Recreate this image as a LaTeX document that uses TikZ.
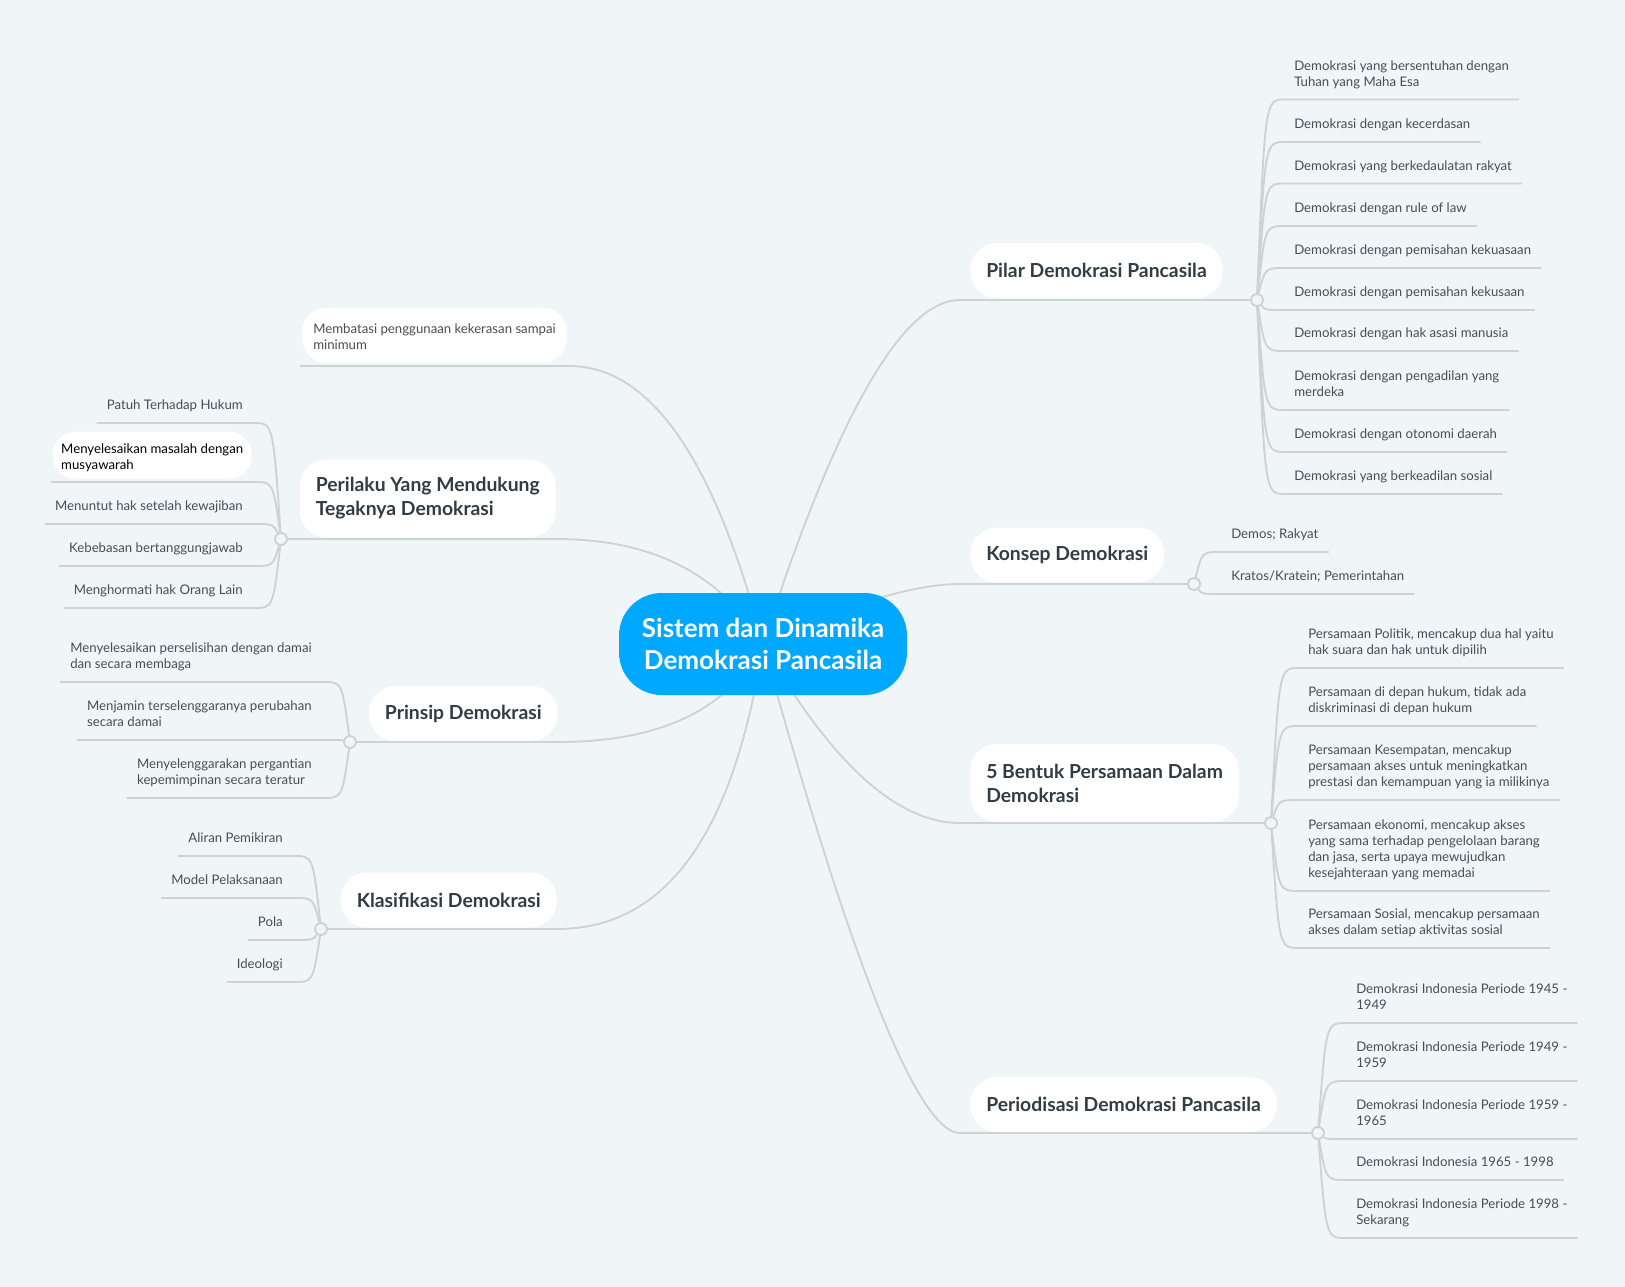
\documentclass[tikz,border=0pt]{standalone}
\usepackage{fontspec}
\setmainfont{Lato}
\usetikzlibrary{calc}
\pgfdeclarelayer{bg}
\pgfsetlayers{bg,main}
\definecolor{bgc}{RGB}{240,245,248}
\definecolor{linec}{RGB}{206,210,213}
\definecolor{rootc}{RGB}{0,168,255}
\definecolor{topicc}{RGB}{50,60,68}
\definecolor{leafc}{RGB}{72,78,84}
\newcommand\leaffont{\fontsize{9.9}{12.2}\selectfont}
\newcommand\topicfont{\fontsize{14.5}{18}\selectfont\bfseries}
\newcommand\rootfont{\fontsize{19.5}{24}\selectfont\bfseries}
\newcommand\toprule{\rule{0pt}{13.5pt}}
\begin{document}
\begin{tikzpicture}[x=0.75pt,y=-0.75pt,
  br/.style={draw=linec, line width=1.4pt},
  junc/.style={circle, draw=linec, fill=bgc, line width=1.4pt, minimum size=9pt, inner sep=0pt},
  leaf/.style={font=\leaffont, text=leafc, inner sep=0pt, align=left, execute at end node={\strut}},
  rleaf/.style={leaf, anchor=south west, yshift=-0.75pt},
  lleaf/.style={leaf, anchor=south east, yshift=-0.75pt},
  boxleaf/.style={font=\leaffont, text=leafc, fill=white, inner ysep=0pt},
  topic/.style={fill=white, rounded corners=20pt, font=\topicfont, text=topicc, align=left, inner xsep=12pt, inner ysep=2pt, minimum height=41.25pt},
  topictwo/.style={topic, minimum height=58.5pt},
  rootnode/.style={fill=rootc, rounded corners=32pt, font=\rootfont, text=white, align=center, minimum width=216pt, minimum height=76.5pt, inner sep=0pt}
]
\useasboundingbox (0,0) rectangle (1625,1287);

% root
\node[rootnode] (C) at (763,644) {Sistem dan Dinamika\\Demokrasi Pancasila};

% topics
\node[topic, anchor=west] (TP) at (970,270.5) {Pilar Demokrasi Pancasila};
\node[topic, anchor=west] (TK) at (970,555) {Konsep Demokrasi};
\node[topictwo, anchor=west] (TB) at (970,783) {5 Bentuk Persamaan Dalam\\Demokrasi};
\node[topic, anchor=west] (TD) at (970,1104.5) {Periodisasi Demokrasi Pancasila};
\node[topictwo, anchor=east] (TR) at (556,498.5) {Perilaku Yang Mendukung\\Tegaknya Demokrasi};
\node[topic, anchor=east] (TS) at (558,713.5) {Prinsip Demokrasi};
\node[topic, anchor=east] (TA) at (557,900) {Klasifikasi Demokrasi};

% boxed leaf on root
\node[boxleaf, rounded corners=18pt, inner xsep=8.25pt, minimum height=41.25pt, anchor=south west] (M) at (302,363) {\begin{tabular}{@{}l@{}}\toprule Membatasi penggunaan kekerasan sampai\\minimum\end{tabular}};

% junctions
\node[junc] (JP) at (1257,300) {};
\node[junc] (JK) at (1194,584) {};
\node[junc] (JB) at (1271,823) {};
\node[junc] (JD) at (1318,1133) {};
\node[junc] (JR) at (281,539) {};
\node[junc] (JS) at (350,742) {};
\node[junc] (JA) at (321,929) {};

% Pilar leaves
\node[rleaf] (P1) at (1294,90.5) {Demokrasi yang bersentuhan dengan\\Tuhan yang Maha Esa};
\node[rleaf] (P2) at (1294,133) {Demokrasi dengan kecerdasan};
\node[rleaf] (P3) at (1294,174.5) {Demokrasi yang berkedaulatan rakyat};
\node[rleaf] (P4) at (1294,217) {Demokrasi dengan rule of law};
\node[rleaf] (P5) at (1294,259) {Demokrasi dengan pemisahan kekuasaan};
\node[rleaf] (P6) at (1294,301) {Demokrasi dengan pemisahan kekusaan};
\node[rleaf] (P7) at (1294,342) {Demokrasi dengan hak asasi manusia};
\node[rleaf] (P8) at (1294,401) {Demokrasi dengan pengadilan yang\\merdeka};
\node[rleaf] (P9) at (1294,443) {Demokrasi dengan otonomi daerah};
\node[rleaf] (P10) at (1294,485) {Demokrasi yang berkeadilan sosial};

% Konsep leaves
\node[rleaf] (K1) at (1231,543) {Demos; Rakyat};
\node[rleaf] (K2) at (1231,585) {Kratos/Kratein; Pemerintahan};

% Bentuk leaves
\node[rleaf] (B1) at (1308,659) {Persamaan Politik, mencakup dua hal yaitu\\hak suara dan hak untuk dipilih};
\node[rleaf] (B2) at (1308,717) {Persamaan di depan hukum, tidak ada\\diskriminasi di depan hukum};
\node[rleaf] (B3) at (1308,791) {Persamaan Kesempatan, mencakup\\persamaan akses untuk meningkatkan\\prestasi dan kemampuan yang ia milikinya};
\node[rleaf] (B4) at (1308,882) {Persamaan ekonomi, mencakup akses\\yang sama terhadap pengelolaan barang\\dan jasa, serta upaya mewujudkan\\kesejahteraan yang memadai};
\node[rleaf] (B5) at (1308,939) {Persamaan Sosial, mencakup persamaan\\akses dalam setiap aktivitas sosial};

% Periodisasi leaves
\node[rleaf] (D1) at (1356,1014) {Demokrasi Indonesia Periode 1945 -\\1949};
\node[rleaf] (D2) at (1356,1072) {Demokrasi Indonesia Periode 1949 -\\1959};
\node[rleaf] (D3) at (1356,1130) {Demokrasi Indonesia Periode 1959 -\\1965};
\node[rleaf] (D4) at (1356,1171) {Demokrasi Indonesia 1965 - 1998};
\node[rleaf] (D5) at (1356,1229) {Demokrasi Indonesia Periode 1998 -\\Sekarang};

% Perilaku leaves
\node[lleaf] (R1) at (243,414) {Patuh Terhadap Hukum};
\node[boxleaf, text=black, rounded corners=17pt, inner xsep=6.4pt, minimum height=35.25pt, anchor=south east] (R2) at (252,479) {\begin{tabular}{@{}l@{}}\toprule Menyelesaikan masalah dengan\\musyawarah\end{tabular}};
\node[lleaf] (R3) at (243,515) {Menuntut hak setelah kewajiban};
\node[lleaf] (R4) at (243,557) {Kebebasan bertanggungjawab};
\node[lleaf] (R5) at (243,599) {Menghormati hak Orang Lain};

% Prinsip leaves
\node[lleaf] (S1) at (312,673) {Menyelesaikan perselisihan dengan damai\\dan secara membaga};
\node[lleaf] (S2) at (312,731) {Menjamin terselenggaranya perubahan\\secara damai};
\node[lleaf] (S3) at (312,789) {Menyelenggarakan pergantian\\kepemimpinan secara teratur};

% Klasifikasi leaves
\node[lleaf] (A1) at (283,847) {Aliran Pemikiran};
\node[lleaf] (A2) at (283,889) {Model Pelaksanaan};
\node[lleaf] (A3) at (283,931) {Pola};
\node[lleaf] (A4) at (283,973) {Ideologi};

\begin{pgfonlayer}{bg}
\fill[bgc] (0,0) rectangle (1625,1287);
% root to topics
\draw[br] (C.center) .. controls (837,414) and (903,300) .. (960,300) -- (JP);
\draw[br] (C.center) .. controls (848,604) and (914,584) .. (960,584) -- (JK);
\draw[br] (C.center) .. controls (831,763) and (897,823) .. (960,823) -- (JB);
\draw[br] (C.center) .. controls (853,970) and (919,1133) .. (960,1133) -- (JD);
\draw[br] (C.center) .. controls (714,458) and (650,366) .. (569,366) -- ($(M.south west)+(-2,3)$);
\draw[br] (C.center) .. controls (721,574) and (652,539) .. (556,539) -- (JR);
\draw[br] (C.center) .. controls (729,709) and (661,742) .. (558,742) -- (JS);
\draw[br] (C.center) .. controls (734,834) and (666,929) .. (557,929) -- (JA);
% right leaves
\foreach \n/\y in {P1/99.5,P2/142,P3/183.5,P4/226,P5/268,P6/310,P7/351,P8/410,P9/452,P10/494}
  \draw[br] (JP) .. controls (1265,\y) .. (1285,\y) -- ($(\n.south east)+(10,8)$);
\foreach \n/\y in {K1/552,K2/594}
  \draw[br] (JK) .. controls (1202,\y) .. (1221,\y) -- ($(\n.south east)+(10,8)$);
\foreach \n/\y in {B1/668,B2/726,B3/800,B4/891,B5/948}
  \draw[br] (JB) .. controls (1279,\y) .. (1299,\y) -- ($(\n.south east)+(10,8)$);
\foreach \n/\y in {D1/1023,D2/1081,D3/1139,D4/1180,D5/1238}
  \draw[br] (JD) .. controls (1326,\y) .. (1346,\y) -- ($(\n.south east)+(10,8)$);
% left leaves
\foreach \n/\y in {R1/423,R3/524,R4/566,R5/608}
  \draw[br] (JR) .. controls (273,\y) .. (254,\y) -- ($(\n.south west)+(-10,8)$);
\draw[br] (JR) .. controls (273,482) .. (254,482) -- ($(R2.south west)+(-1,3)$);
\foreach \n/\y in {S1/682,S2/740,S3/798}
  \draw[br] (JS) .. controls (342,\y) .. (323,\y) -- ($(\n.south west)+(-10,8)$);
\foreach \n/\y in {A1/856,A2/898,A3/940,A4/982}
  \draw[br] (JA) .. controls (313,\y) .. (294,\y) -- ($(\n.south west)+(-10,8)$);
\end{pgfonlayer}
\end{tikzpicture}
\end{document}
